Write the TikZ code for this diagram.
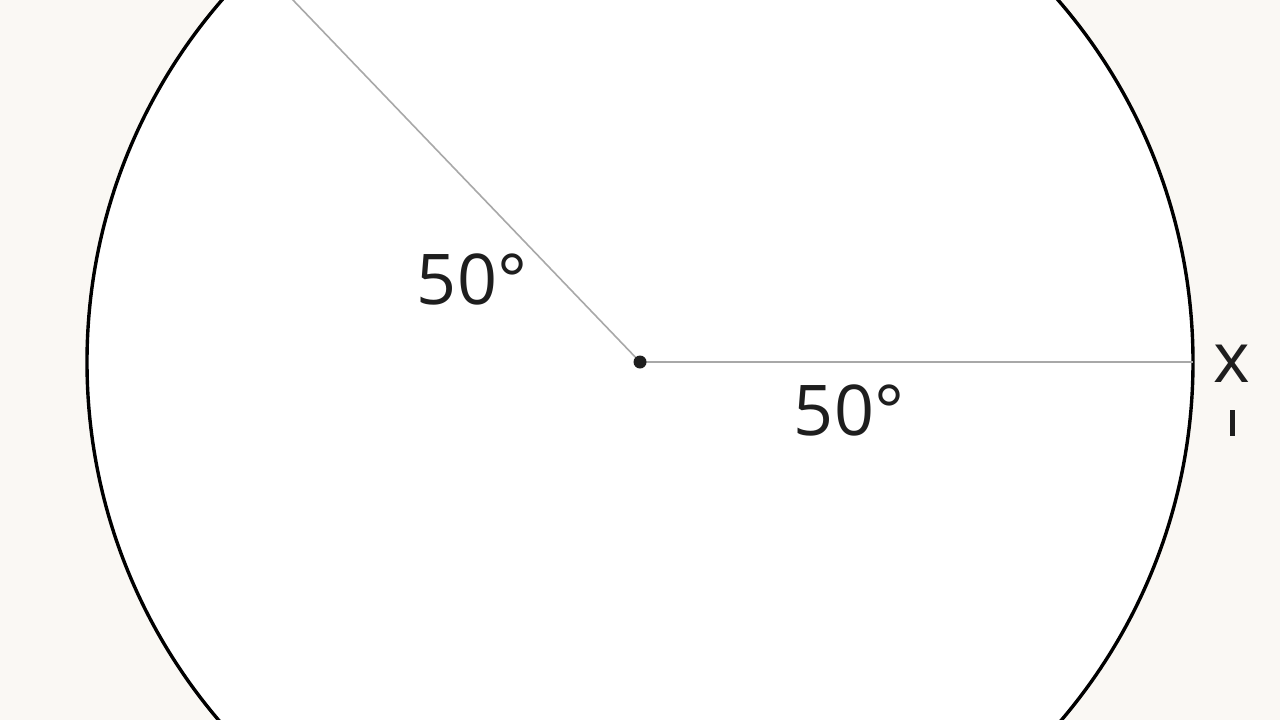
\documentclass[tikz,border=0pt]{standalone}
\usepackage{fontspec}
\setmainfont{Open Sans}
\definecolor{bgc}{HTML}{FAF8F4}
\definecolor{raygray}{HTML}{A8A8A8}
\definecolor{ink}{HTML}{1E1E1E}
\tikzset{
  lbl/.style={font=\fontsize{70}{80}\selectfont, text=ink, inner sep=0pt},
  ray/.style={draw=raygray, line width=1.6pt},
  rim/.style={draw=black, line width=3.4pt, fill=white}
}
\begin{document}
\begin{tikzpicture}[x=1pt,y=-1pt]
\useasboundingbox (0,0) rectangle (1280,720);
\fill[bgc] (0,0) rectangle (1280,720);
\begin{scope}
\clip (0,0) rectangle (1280,720);
\coordinate (O) at (640,362);
\path[rim] (O) circle[radius=553];
\coordinate (E) at (1193,362);
\coordinate (T) at (292,-1);
\draw[ray] (O) -- (E);
\draw[ray] (O) -- (T);
\fill[ink] (O) circle[radius=6.5];
\end{scope}
\node[lbl] (a1) at (472,279) {50°};
\node[lbl] (a2) at (849,410) {50°};
\node[lbl] (x) at (1232,364) {x};
\coordinate (t1) at (1232,410);
\coordinate (t2) at (1232,436);
\draw[ink, line width=5pt] (t1) -- (t2);
\end{tikzpicture}
\end{document}
